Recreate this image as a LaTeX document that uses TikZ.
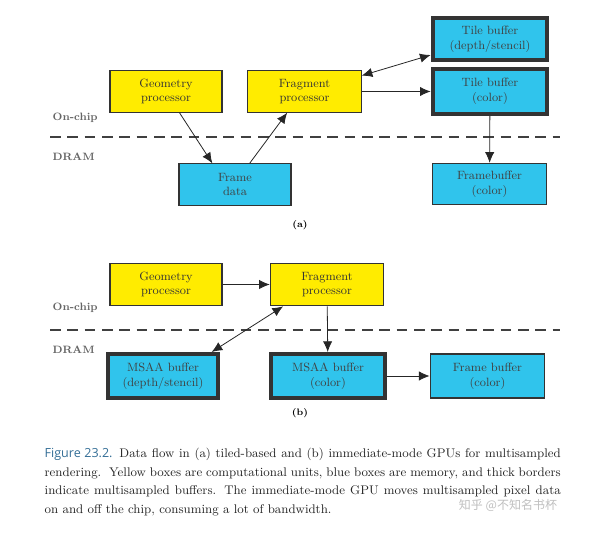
\documentclass[tikz,border=0pt]{standalone}
\usepackage{fontspec}
\newfontfamily\capsans{Open Sans}
\newfontfamily\cjk{Noto Sans CJK SC}
\usetikzlibrary{arrows.meta}
\definecolor{unityellow}{RGB}{255,236,0}
\definecolor{memblue}{RGB}{48,196,236}
\definecolor{capblue}{RGB}{52,110,150}
\begin{document}
\begin{tikzpicture}
        [x=0.75pt, y=-0.75pt, font=\small,
        proc/.style={draw=black!80,fill=unityellow,thick,align=center,inner sep=1pt,text=black!80},
        mem/.style={draw=black!80,fill=memblue,thick,align=center,inner sep=1pt,text=black!75},
        msaa/.style={mem,line width=3pt},
        side/.style={anchor=west,font=\footnotesize\bfseries,text=black!60},
        arr/.style={-{Latex[length=8pt,width=7pt]},semithick,black!85},
        darr/.style={{Latex[length=8pt,width=7pt]}-{Latex[length=8pt,width=7pt]},semithick,black!85}]
        \useasboundingbox (0,0) rectangle (600,534);
        % (a) tiled
        \node (ageo) at (166,91.5) [proc, minimum width=84pt, minimum height=31pt] {Geometry\\processor};
        \node (afrag) at (304.5,91.5) [proc, minimum width=85pt, minimum height=31pt] {Fragment\\processor};
        \node (atiled) at (490,39) [msaa, minimum width=86pt, minimum height=32pt] {Tile buffer\\(depth/stencil)};
        \node (atilec) at (490,91.5) [msaa, minimum width=86pt, minimum height=34pt] {Tile buffer\\(color)};
        \node (aframe) at (235,184.5) [mem, minimum width=84pt, minimum height=31pt] {Frame\\data};
        \node (afb) at (489.5,184) [mem, minimum width=86pt, minimum height=31pt] {Framebuffer\\(color)};
        \node (aon) at (48,118) [side] {On-chip};
        \node (adram) at (48,157) [side] {DRAM};
        \node (alab) at (300,225) {\scriptsize\bfseries(a)};
        \coordinate (adl) at (50,137);
        \coordinate (adr) at (560,137);
        \draw[dashed,thick,black!75,dash pattern=on 8pt off 5pt] (adl) -- (adr);
        \draw[arr] (ageo.south west) ++(70,0) -- ([xshift=-17pt]aframe.north);
        \draw[arr] ([xshift=11pt]aframe.north) -- ([xshift=-13pt]afrag.south);
        \draw[darr] ([yshift=-4pt]afrag.north east) -- ([yshift=-12pt]atiled.west);
        \draw[arr] (afrag.east) -- (atilec.west);
        \draw[arr] (atilec) -- (afb);
        % (b) immediate
        \node (bgeo) at (166,284.5) [proc, minimum width=84pt, minimum height=32pt] {Geometry\\processor};
        \node (bfrag) at (327,284.5) [proc, minimum width=85pt, minimum height=32pt] {Fragment\\processor};
        \node (bmsd) at (163,376) [msaa, minimum width=82pt, minimum height=33pt] {MSAA buffer\\(depth/stencil)};
        \node (bmsc) at (328,376) [msaa, minimum width=85pt, minimum height=33pt] {MSAA buffer\\(color)};
        \node (bfb) at (487.5,376) [mem, minimum width=86pt, minimum height=33pt] {Frame buffer\\(color)};
        \node (bon) at (48,308) [side] {On-chip};
        \node (bdram) at (48,350) [side] {DRAM};
        \node (blab) at (300,413) {\scriptsize\bfseries(b)};
        \coordinate (bdl) at (50,330);
        \coordinate (bdr) at (560,330);
        \draw[dashed,thick,black!75,dash pattern=on 8pt off 5pt] (bdl) -- (bdr);
        \draw[arr] (bgeo) -- (bfrag);
        \draw[darr] ([xshift=10pt]bfrag.south west) -- ([xshift=-6pt]bmsd.north east);
        \draw[arr] (bfrag) -- (bmsc);
        \draw[arr] (bmsc) -- (bfb);
        % caption
        \node (cap) at (40,482) [anchor=west, text width=387pt, align=justify, font=\fontsize{9.4}{14}\selectfont, text=black!85]
          {{\capsans\color{capblue}Figure 23.2.} Data flow in (a) tiled-based and (b) immediate-mode GPUs for multisampled rendering.\ \ Yellow boxes are computational units, blue boxes are memory, and thick borders indicate multisampled buffers. The immediate-mode GPU moves multisampled pixel data on and off the chip, consuming a lot of bandwidth.};
        \node (mark) at (508,505) [text=black!25, font=\cjk\small] {知乎 @不知名书杯};
      \end{tikzpicture}
\end{document}
